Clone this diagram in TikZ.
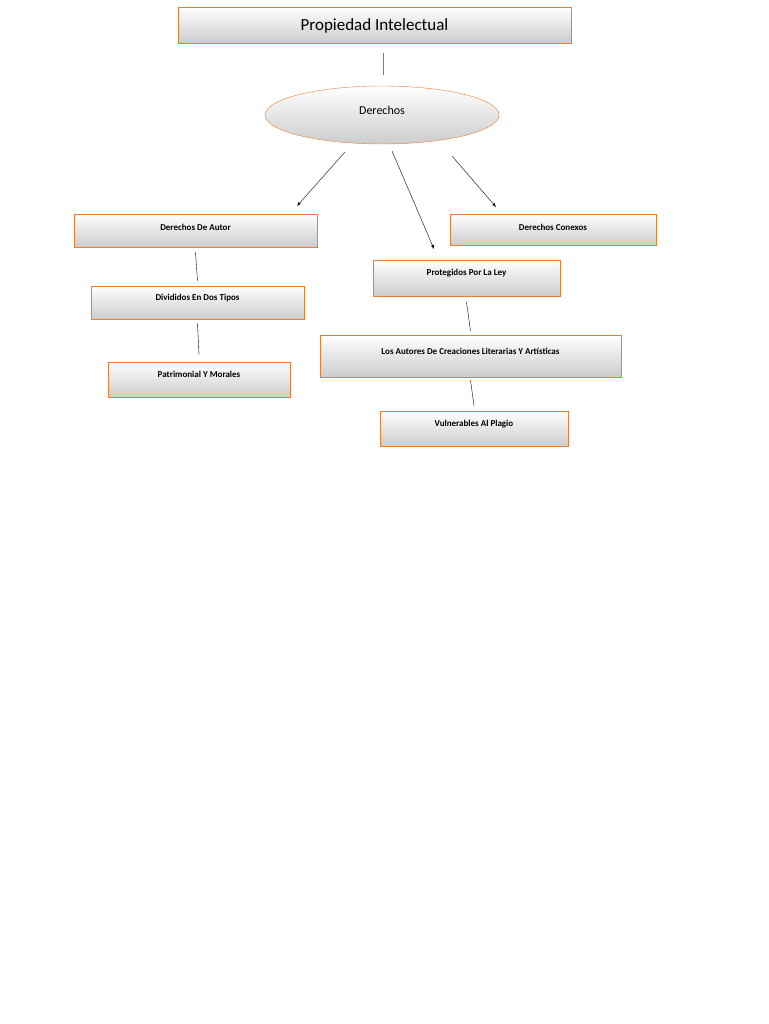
\documentclass[tikz,border=0pt]{standalone}
\usepackage{fontspec}
\setmainfont{Carlito}
\usetikzlibrary{shapes.geometric}
\definecolor{boxline}{RGB}{237,125,49}
\tikzset{
  cbox/.style={draw=boxline, top color=white, bottom color=black!20, minimum height=#1, inner sep=0pt},
  cbox/.default=33pt,
  ctext/.style={font=\bfseries\fontsize{9}{10}\selectfont},
  conn/.style={thin},
  arr/.style={-latex, thin}
}
\begin{document}
\begin{tikzpicture}[x=1pt,y=-1pt]
\useasboundingbox (0,0) rectangle (768,1024);

\node[cbox=36pt, minimum width=393pt] (prop) at (374.5,25) {};
\node[font=\fontsize{17}{20}\selectfont] (propt) at (374.5,26) {Propiedad Intelectual};
\node[ellipse, draw=boxline, top color=white, bottom color=black!20, minimum width=234pt, minimum height=58pt, inner sep=0pt] (der) at (382,115) {};
\node[font=\fontsize{12}{14}\selectfont] (dert) at (382,110) {Derechos};

\node[cbox, minimum width=243pt] (autor) at (195.5,230.5) {};
\node[ctext] at (195.5,227) {Derechos De Autor};
\node[cbox=31pt, minimum width=206pt] (conex) at (553,229.5) {};
\node[ctext] at (553,227) {Derechos Conexos};
\node[cbox=36pt, minimum width=187pt] (ley) at (466.5,278) {};
\node[ctext] at (466.5,273) {Protegidos Por La Ley};
\node[cbox, minimum width=213pt] (tipos) at (197.5,302.5) {};
\node[ctext] at (197.5,298) {Divididos En Dos Tipos};
\node[cbox=42pt, minimum width=301pt] (autores) at (470.5,356) {};
\node[ctext] at (470.5,351) {Los Autores De Creaciones Literarias Y Artísticas};
\node[cbox=35pt, minimum width=182pt] (patri) at (199,379.5) {};
\node[ctext] at (199,374) {Patrimonial Y Morales};
\node[cbox=35pt, minimum width=188pt] (plagio) at (474,428.5) {};
\node[ctext] at (474,424) {Vulnerables Al Plagio};

% connector ends
\coordinate (c1) at (383,53);
\coordinate (c2) at (383,75);
\coordinate (a1) at (345,152);
\coordinate (a2) at (297,206);
\coordinate (b1) at (392,151);
\coordinate (b2) at (434,249);
\coordinate (d1) at (452,156);
\coordinate (d2) at (496,207);

\draw[conn, gray] (c1) -- (c2);
\draw[arr] (a1) -- (a2);
\draw[arr] (b1) -- (b2);
\draw[arr] (d1) -- (d2);

\draw[conn] ([yshift=-5pt]autor.south) -- ([yshift=5pt]tipos.north);
\draw[conn] ([yshift=-4pt]tipos.south) -- ([yshift=7pt]patri.north);
\draw[conn] ([yshift=-6pt]ley.south) -- ([yshift=4pt]autores.north);
\draw[conn] ([yshift=-3pt]autores.south) -- ([yshift=5pt]plagio.north);
\end{tikzpicture}
\end{document}
